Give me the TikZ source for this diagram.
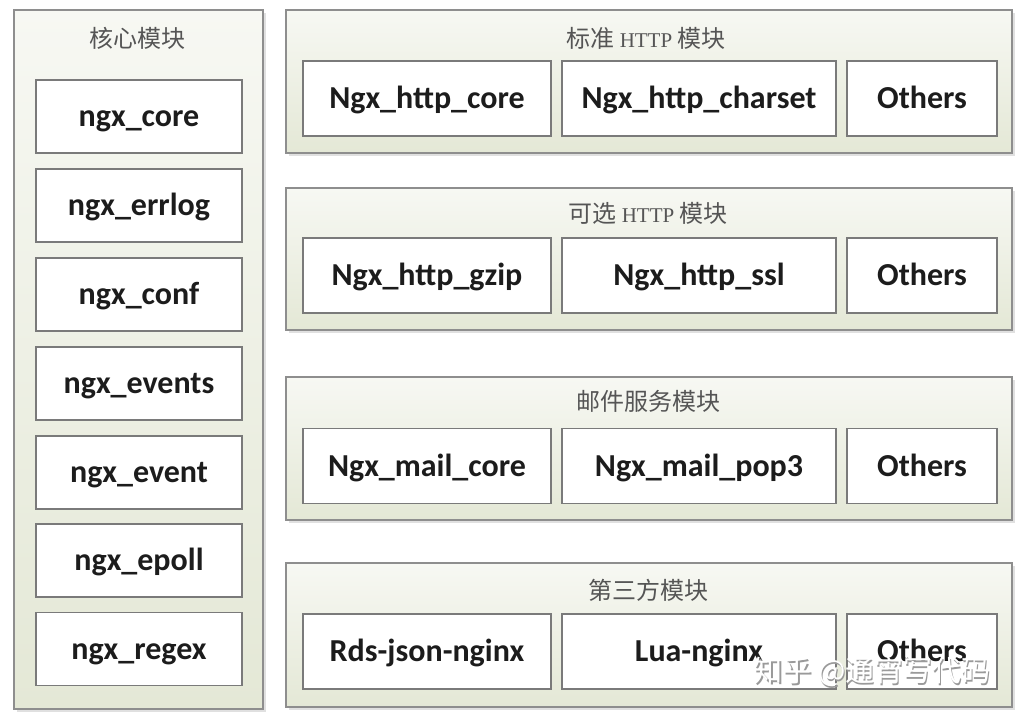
\documentclass[tikz,border=0pt]{standalone}
\usepackage{fontspec}
\setmainfont{Carlito}
\newfontfamily\cjk{Noto Sans CJK SC}
\newfontfamily\narrowlat{Liberation Serif}
\definecolor{panelline}{HTML}{8E8E8E}
\definecolor{panelbot}{HTML}{E4E8D6}
\definecolor{paneltop}{HTML}{F7F8F3}
\definecolor{boxline}{HTML}{7A7A7A}
\definecolor{titlegray}{HTML}{555555}
\definecolor{boxtext}{HTML}{1C1C1C}
\definecolor{wmline}{HTML}{9A9A9A}
\begin{document}
\begin{tikzpicture}[x=1pt,y=-1pt,
  panel/.style={draw=panelline, line width=2pt, top color=paneltop, bottom color=panelbot},
  modbox/.style={draw=boxline, line width=1.8pt, fill=white, inner sep=0pt,
     font=\fontsize{32}{38}\selectfont\bfseries, text=boxtext,
     text height=26pt, text depth=6pt},
  lbox/.style={modbox, minimum width=206pt, minimum height=73pt},
  rbox/.style={modbox, minimum height=75pt},
  ptitle/.style={font=\fontsize{24}{28}\selectfont\cjk, text=titlegray, inner sep=0pt}
]
\useasboundingbox (0,0) rectangle (1020,715);
\fill[white] (0,0) rectangle (1020,715);

% shadows
\fill[black!12] (17,13) rectangle (266,712);
\foreach \a/\b in {10/153,188/330,377/520,563/707}{
  \fill[black!12] (289,\a+3) rectangle (1015,\b+3);
}

% left panel
\draw[panel] (14,10) rectangle (263,709);
\node[ptitle] (tcore) at (137,38) {核心模块};
\node[lbox] (core)   at (139,116.5) {ngx\_core};
\node[lbox] (errlog) at (139,205.5) {ngx\_errlog};
\node[lbox] (conf)   at (139,294.5) {ngx\_conf};
\node[lbox] (events) at (139,383.5) {ngx\_events};
\node[lbox] (event)  at (139,472.5) {ngx\_event};
\node[lbox] (epoll)  at (139,560.5) {ngx\_epoll};
\node[lbox] (regex)  at (139,649)   {ngx\_regex};

% right panels
\draw[panel] (286,10) rectangle (1012,153);
\draw[panel] (286,188) rectangle (1012,330);
\draw[panel] (286,377) rectangle (1012,520);
\draw[panel] (286,563) rectangle (1012,707);

\node[ptitle] (tstd) at (646,38) {标准 {\narrowlat\fontsize{21}{24}\selectfont HTTP} 模块};
\node[rbox, minimum width=248pt] (hcore) at (427,98.5) {Ngx\_http\_core};
\node[rbox, minimum width=274pt] (hcharset) at (699,98.5) {Ngx\_http\_charset};
\node[rbox, minimum width=150pt] (hothers) at (922,98.5) {Others};

\node[ptitle] (topt) at (648,213) {可选 {\narrowlat\fontsize{21}{24}\selectfont HTTP} 模块};
\node[rbox, minimum width=248pt] (gzip) at (427,275.5) {Ngx\_http\_gzip};
\node[rbox, minimum width=274pt] (ssl) at (699,275.5) {Ngx\_http\_ssl};
\node[rbox, minimum width=150pt] (oothers) at (922,275.5) {Others};

\node[ptitle] (tmail) at (648,401) {邮件服务模块};
\node[rbox, minimum width=248pt] (mcore) at (427,466) {Ngx\_mail\_core};
\node[rbox, minimum width=274pt] (pop3) at (699,466) {Ngx\_mail\_pop3};
\node[rbox, minimum width=150pt] (mothers) at (922,466) {Others};

\node[ptitle] (tthird) at (648,590) {第三方模块};
\node[rbox, minimum width=248pt] (rds) at (427,651.5) {Rds-json-nginx};
\node[rbox, minimum width=274pt] (lua) at (699,651.5) {Lua-nginx};
\node[rbox, minimum width=150pt] (tothers) at (922,651.5) {Others};

% watermark
\node[font=\fontsize{29}{32}\selectfont\cjk, text=wmline, inner sep=0pt] (wmshadow) at (873.5,673.5) {知乎 @通宵写代码};
\node[font=\fontsize{29}{32}\selectfont\cjk, text=white, inner sep=0pt] (wm) at (872,672) {知乎 @通宵写代码};
\end{tikzpicture}
\end{document}
